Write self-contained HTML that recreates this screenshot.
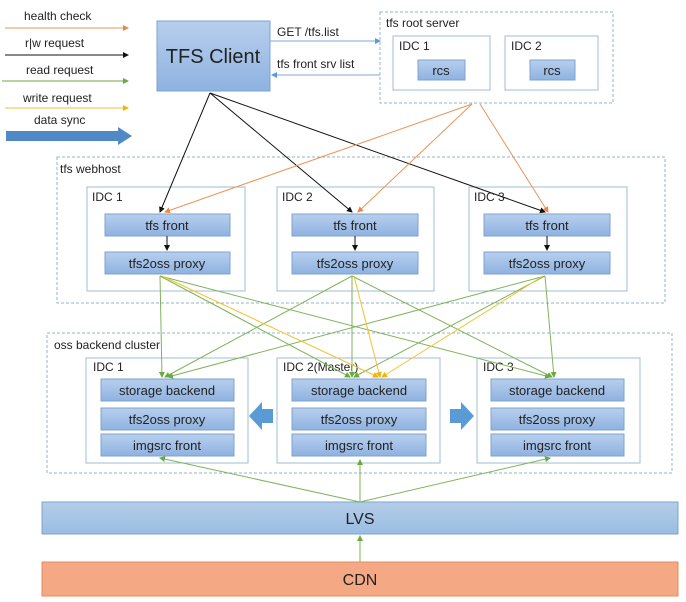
<!DOCTYPE html>
<html><head><meta charset="utf-8"><style>
body{margin:0;background:#fff;}
svg{display:block;font-family:"Liberation Sans",sans-serif;}
.b{fill:url(#g);stroke:#7ea3cf;stroke-width:1}
.t{font-size:13px;fill:#222;text-anchor:middle}
.l{font-size:12px;fill:#222}
.dash{fill:none;stroke:#8fb4cf;stroke-dasharray:3,2}
.idc{fill:#fff;stroke:#9fbfd6}
</style></head><body>
<svg width="686" height="602" viewBox="0 0 686 602">
<defs>
<linearGradient id="g" x1="0" y1="0" x2="0" y2="1"><stop offset="0" stop-color="#b7cfee"/><stop offset="1" stop-color="#8fb2e0"/></linearGradient>
<linearGradient id="g2" x1="0" y1="0" x2="0" y2="1"><stop offset="0" stop-color="#b3cde8"/><stop offset="1" stop-color="#9bbde3"/></linearGradient>
<marker id="ao" markerWidth="6" markerHeight="6" refX="5" refY="3" orient="auto"><path d="M0,0L6,3L0,6z" fill="#e8874a"/></marker>
<marker id="ak" markerWidth="6" markerHeight="6" refX="5" refY="3" orient="auto"><path d="M0,0L6,3L0,6z" fill="#111"/></marker>
<marker id="ag" markerWidth="6" markerHeight="6" refX="5" refY="3" orient="auto"><path d="M0,0L6,3L0,6z" fill="#6aaa3c"/></marker>
<marker id="ay" markerWidth="6" markerHeight="6" refX="5" refY="3" orient="auto"><path d="M0,0L6,3L0,6z" fill="#f2b600"/></marker>
<marker id="ab" markerWidth="6" markerHeight="6" refX="5" refY="3" orient="auto"><path d="M0,0L6,3L0,6z" fill="#5b9bd5"/></marker>
</defs>
<!-- legend -->
<text class="l" x="24" y="20" font-size="13">health check</text>
<line x1="5" y1="28" x2="128" y2="28" stroke="#e8955a" marker-end="url(#ao)"/>
<text class="l" x="25" y="47" font-size="13">r|w request</text>
<line x1="5" y1="55" x2="128" y2="55" stroke="#111" marker-end="url(#ak)"/>
<text class="l" x="26" y="74" font-size="13">read request</text>
<line x1="2" y1="81" x2="128" y2="81" stroke="#6aaa3c" marker-end="url(#ag)"/>
<text class="l" x="23" y="102" font-size="13">write request</text>
<line x1="5" y1="108" x2="128" y2="108" stroke="#f2c230" marker-end="url(#ay)"/>
<text class="l" x="34" y="124" font-size="13">data sync</text>
<path d="M6,131H118V127L132,136L118,145V141H6z" fill="#4f8ac6"/>
<!-- client -->
<rect x="157" y="21" width="113" height="70" fill="url(#g)" stroke="#7ea3cf"/>
<text x="213" y="63" font-size="20" text-anchor="middle" fill="#222">TFS Client</text>
<text class="l" x="277" y="36" font-size="13">GET /tfs.list</text>
<line x1="270" y1="41" x2="380" y2="41" stroke="#7fa8d6" marker-end="url(#ab)"/>
<text class="l" x="277" y="68" font-size="13">tfs front srv list</text>
<line x1="380" y1="75" x2="272" y2="75" stroke="#7fa8d6" marker-end="url(#ab)"/>
<!-- root server -->
<rect class="dash" x="380" y="12" width="233" height="91"/>
<text class="l" x="386" y="27" font-size="13">tfs root server</text>
<rect class="idc" x="393" y="36" width="97" height="54"/>
<text class="l" x="399" y="50" font-size="11">IDC 1</text>
<rect class="b" x="418" y="60" width="47" height="20"/><text class="t" x="441" y="75">rcs</text>
<rect class="idc" x="505" y="36" width="93" height="54"/>
<text class="l" x="511" y="50" font-size="11">IDC 2</text>
<rect class="b" x="530" y="60" width="45" height="20"/><text class="t" x="552" y="75">rcs</text>
<!-- webhost -->
<rect class="dash" x="57" y="157" width="608" height="146"/>
<text class="l" x="60" y="173" font-size="13">tfs webhost</text>
<g>
<rect class="idc" x="87" y="187" width="158" height="104"/><text class="l" x="92" y="201" font-size="11">IDC 1</text>
<rect class="b" x="105" y="214" width="125" height="22"/><text class="t" x="167" y="230">tfs front</text>
<rect class="b" x="105" y="252" width="125" height="22"/><text class="t" x="167" y="268">tfs2oss proxy</text>
<line x1="167" y1="236" x2="167" y2="250" stroke="#111" marker-end="url(#ak)"/>
<rect class="idc" x="277" y="187" width="157" height="104"/><text class="l" x="282" y="201" font-size="11">IDC 2</text>
<rect class="b" x="292" y="214" width="126" height="22"/><text class="t" x="355" y="230">tfs front</text>
<rect class="b" x="292" y="252" width="126" height="22"/><text class="t" x="355" y="268">tfs2oss proxy</text>
<line x1="355" y1="236" x2="355" y2="250" stroke="#111" marker-end="url(#ak)"/>
<rect class="idc" x="469" y="187" width="158" height="104"/><text class="l" x="474" y="201" font-size="11">IDC 3</text>
<rect class="b" x="484" y="214" width="126" height="22"/><text class="t" x="547" y="230">tfs front</text>
<rect class="b" x="484" y="252" width="126" height="22"/><text class="t" x="547" y="268">tfs2oss proxy</text>
<line x1="547" y1="236" x2="547" y2="250" stroke="#111" marker-end="url(#ak)"/>
</g>
<!-- backend -->
<rect class="dash" x="47" y="333" width="625" height="140"/>
<text class="l" x="54" y="349" font-size="13">oss backend cluster</text>
<rect class="idc" x="86" y="358" width="162" height="105"/><text class="l" x="93" y="371" font-size="11">IDC 1</text>
<rect class="b" x="101" y="379" width="133" height="22"/><text class="t" x="167" y="395">storage backend</text>
<rect class="b" x="101" y="408" width="133" height="22"/><text class="t" x="167" y="424">tfs2oss proxy</text>
<rect class="b" x="101" y="434" width="133" height="22"/><text class="t" x="167" y="450">imgsrc front</text>
<rect class="idc" x="277" y="358" width="163" height="105"/><text class="l" x="283" y="371" font-size="11">IDC 2(Master)</text>
<rect class="b" x="292" y="379" width="134" height="22"/><text class="t" x="359" y="395">storage backend</text>
<rect class="b" x="292" y="408" width="134" height="22"/><text class="t" x="359" y="424">tfs2oss proxy</text>
<rect class="b" x="292" y="434" width="134" height="22"/><text class="t" x="359" y="450">imgsrc front</text>
<rect class="idc" x="477" y="358" width="163" height="105"/><text class="l" x="483" y="371" font-size="11">IDC 3</text>
<rect class="b" x="491" y="379" width="133" height="22"/><text class="t" x="557" y="395">storage backend</text>
<rect class="b" x="491" y="408" width="133" height="22"/><text class="t" x="557" y="424">tfs2oss proxy</text>
<rect class="b" x="491" y="434" width="133" height="22"/><text class="t" x="557" y="450">imgsrc front</text>
<path d="M273,409H262V402L249,416L262,430V423H273z" fill="#5b9bd5"/>
<path d="M450,409H461V402L474,416L461,430V423H450z" fill="#5b9bd5"/>
<!-- LVS/CDN -->
<rect x="42" y="502" width="636" height="32" fill="url(#g2)" stroke="#7ea3cf"/>
<text x="360" y="524" font-size="16" text-anchor="middle" fill="#222">LVS</text>
<rect x="42" y="562" width="636" height="34" fill="#f4a883" stroke="#e38b62"/>
<text x="360" y="585" font-size="16" text-anchor="middle" fill="#222">CDN</text>
<!-- connectors -->
<g stroke="#111" fill="none">
<line x1="210" y1="93" x2="160" y2="212" marker-end="url(#ak)"/>
<line x1="210" y1="93" x2="352" y2="212" marker-end="url(#ak)"/>
<line x1="210" y1="93" x2="545" y2="212" marker-end="url(#ak)"/>
</g>
<g stroke="#e8955a" fill="none">
<line x1="472" y1="104" x2="165" y2="212" marker-end="url(#ao)"/>
<line x1="472" y1="104" x2="358" y2="212" marker-end="url(#ao)"/>
<line x1="480" y1="104" x2="548" y2="212" marker-end="url(#ao)"/>
</g>
<g stroke="#7fb35a" fill="none">
<line x1="160" y1="276" x2="162" y2="377" marker-end="url(#ag)"/>
<line x1="160" y1="276" x2="350" y2="377" marker-end="url(#ag)"/>
<line x1="160" y1="276" x2="550" y2="377" marker-end="url(#ag)"/>
<line x1="352" y1="276" x2="165" y2="377" marker-end="url(#ag)"/>
<line x1="352" y1="276" x2="352" y2="377" marker-end="url(#ag)"/>
<line x1="352" y1="276" x2="552" y2="377" marker-end="url(#ag)"/>
<line x1="545" y1="276" x2="168" y2="377" marker-end="url(#ag)"/>
<line x1="545" y1="276" x2="354" y2="377" marker-end="url(#ag)"/>
<line x1="545" y1="276" x2="554" y2="377" marker-end="url(#ag)"/>
<line x1="360" y1="502" x2="160" y2="458" marker-end="url(#ag)"/>
<line x1="360" y1="502" x2="360" y2="460" marker-end="url(#ag)"/>
<line x1="360" y1="502" x2="550" y2="458" marker-end="url(#ag)"/>
<line x1="360" y1="562" x2="360" y2="536" marker-end="url(#ag)"/>
</g>
<g stroke="#f2c230" fill="none">
<line x1="162" y1="276" x2="378" y2="377" marker-end="url(#ay)"/>
<line x1="354" y1="276" x2="380" y2="377" marker-end="url(#ay)"/>
<line x1="543" y1="276" x2="382" y2="377" marker-end="url(#ay)"/>
</g>
</svg>
</body></html>
